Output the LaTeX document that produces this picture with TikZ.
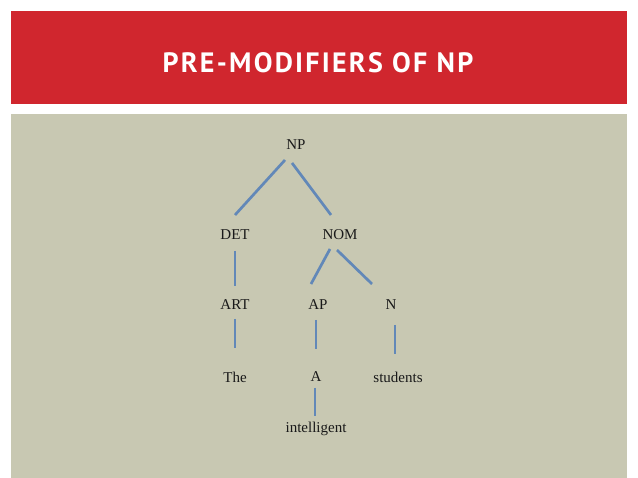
\documentclass[tikz,border=0pt]{standalone}
\usepackage{fontspec}
\setmainfont{Liberation Serif}
\newfontfamily\titlefont[LetterSpace=8]{PT Sans}
\definecolor{banner}{RGB}{208,38,46}
\definecolor{panel}{RGB}{200,200,178}
\definecolor{edge}{RGB}{98,136,184}
\begin{document}
\begin{tikzpicture}[x=1pt,y=-1pt,
  lbl/.style={font=\fontsize{15}{15}\selectfont, text=black!90, inner sep=0pt},
  br/.style={draw=edge, line width=2.7pt}]
\useasboundingbox (0,0) rectangle (638,478);
\fill[white] (0,0) rectangle (638,478);
\fill[banner] (11,11) rectangle (627,104);
\fill[panel] (11,114) rectangle (627,478);
\node[text=white, inner sep=0pt] (title) at (318,63)
  {\scalebox{1.0}[1]{\titlefont\bfseries\fontsize{28}{28}\selectfont PRE-MODIFIERS OF NP}};
\node[lbl] (np) at (296,145) {NP};
\node[lbl] (det) at (235,235) {DET};
\node[lbl] (nom) at (340,235) {NOM};
\node[lbl] (art) at (235,305) {ART};
\node[lbl] (ap) at (318,305) {AP};
\node[lbl] (n) at (391,305) {N};
\node[lbl] (the) at (235,377) {The};
\node[lbl] (a) at (316,377) {A};
\node[lbl] (stu) at (398,377) {students};
\node[lbl] (int) at (316,429) {intelligent};
\coordinate (np1) at (285,160); \coordinate (det1) at (235,215);
\coordinate (np2) at (292,163); \coordinate (nom1) at (331,215);
\coordinate (det2) at (235,251); \coordinate (art1) at (235,286);
\coordinate (nom2) at (330,249); \coordinate (ap1) at (311,284);
\coordinate (nom3) at (337,250); \coordinate (n1) at (372,284);
\coordinate (art2) at (235,319); \coordinate (the1) at (235,348);
\coordinate (ap2) at (316,320); \coordinate (a1) at (316,349);
\coordinate (n2) at (395,325); \coordinate (stu1) at (395,354);
\coordinate (a2) at (315,388); \coordinate (int1) at (315,416);
\draw[br] (np1) -- (det1);
\draw[br] (np2) -- (nom1);
\draw[br] (det2) -- (art1);
\draw[br] (nom2) -- (ap1);
\draw[br] (nom3) -- (n1);
\draw[br] (art2) -- (the1);
\draw[br] (ap2) -- (a1);
\draw[br] (n2) -- (stu1);
\draw[br] (a2) -- (int1);
\end{tikzpicture}
\end{document}
